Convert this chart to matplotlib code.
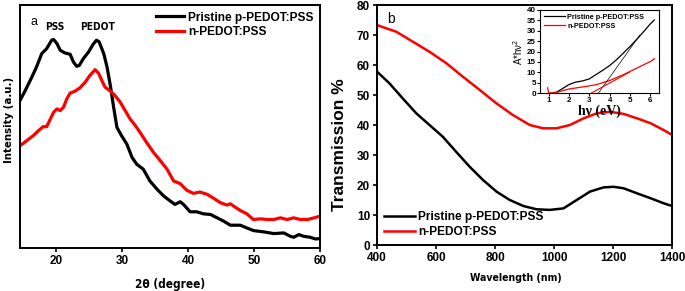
import matplotlib.pyplot as plt
import numpy as np

# panel a: XRD, 2theta (degree) vs intensity (a.u.)
xrd_p_x = [14.5, 15.3, 16.3, 17.0, 17.8, 18.55, 19.3, 19.6, 20.1, 20.6, 21.3, 22.1, 22.6, 23.1, 23.5,
           24.1, 24.9, 25.6, 26.1, 26.5, 27.2, 27.7, 28.2, 28.7, 29.2, 29.9, 30.7, 31.5, 32.2, 33.2,
           34.2, 35.3, 36.3, 37.3, 38.0, 38.8, 39.3, 40.3, 41.3, 42.3, 43.4, 44.4, 45.4, 46.4, 47.9,
           48.9, 49.9, 51.5, 53.0, 54.5, 55.5, 56.0, 56.8, 57.5, 58.5, 59.3, 60.0]
xrd_p_y = [440, 470, 510, 540, 580, 595, 620, 622, 610, 590, 582, 578, 555, 542, 545,
           565, 585, 608, 620, 615, 580, 540, 485, 420, 360, 335, 310, 270, 250, 235,
           200, 175, 155, 140, 130, 138, 130, 108, 108, 102, 100, 90, 80, 68, 68,
           60, 52, 48, 43, 45, 35, 32, 40, 35, 32, 27, 28]
xrd_n_x = [14.5, 15.5, 16.5, 17.3, 18.0, 18.55, 19.1, 19.6, 20.1, 20.6, 21.1, 21.6, 22.1, 22.85, 23.6,
           24.4, 25.1, 25.9, 26.4, 26.9, 27.4, 28.2, 28.9, 29.7, 30.45, 31.2, 32.0, 32.7, 33.7, 34.75,
           35.8, 36.8, 37.8, 38.8, 39.8, 40.8, 41.8, 42.9, 43.9, 44.9, 45.9, 46.4, 46.9, 47.9, 48.9,
           49.9, 51.0, 52.0, 53.0, 54.0, 55.0, 56.0, 57.0, 58.1, 59.1, 60.0]
xrd_n_y = [305, 320, 335, 350, 362, 362, 385, 405, 415, 410, 420, 445, 462, 468, 478,
           495, 515, 532, 522, 500, 480, 468, 455, 435, 410, 385, 365, 345, 315, 285,
           260, 235, 200, 192, 172, 163, 167, 160, 148, 135, 128, 132, 125, 112, 102,
           85, 87, 85, 85, 90, 85, 90, 85, 85, 90, 95]

# panel b: transmission vs wavelength
wl = [400, 442, 487, 533, 578, 623, 668, 714, 759, 805, 850, 896, 941, 986, 1032, 1077, 1122, 1168,
      1202, 1236, 1282, 1327, 1372, 1400]
tr_p = [57.8, 53.9, 48.9, 43.9, 40.0, 36.1, 31.1, 26.1, 21.7, 17.8, 15.0, 13.0, 11.9, 11.7, 12.2, 15.0,
        17.8, 19.2, 19.4, 18.9, 17.2, 15.6, 13.9, 13.0]
wl_n = [400, 465, 521, 578, 635, 691, 748, 805, 861, 918, 963, 1009, 1054, 1100, 1145, 1190, 1236,
        1282, 1327, 1372, 1400]
tr_n = [73.3, 71.1, 67.8, 64.4, 60.6, 56.1, 51.7, 47.2, 43.3, 40.0, 38.9, 38.9, 40.0, 42.2, 43.9, 44.4,
        43.7, 42.2, 40.6, 38.3, 36.7]

# inset: Tauc plot
hv_p = [1.3, 1.63, 1.97, 2.3, 2.65, 3.0, 3.33, 3.67, 4.0, 4.35, 4.7, 5.03, 5.37, 5.71, 6.0, 6.22]
tauc_p = [0, 1.9, 4.0, 5.2, 5.8, 6.8, 8.9, 11.0, 13.2, 16.1, 19.4, 22.6, 26.1, 29.8, 33.1, 35.2]
hv_n = [0.93, 0.97, 1.03, 1.46, 1.97, 2.65, 3.33, 4.0, 4.7, 5.37, 6.05, 6.22]
tauc_n = [2.5, 0.3, 0, 0.5, 1.9, 2.9, 4.0, 6.0, 8.9, 12.1, 15.3, 16.5]
fit_p_x = [3.45, 5.5]
fit_p_y = [0, 27.9]
fit_n_x = [3.1, 5.0]
fit_n_y = [0, 10.1]

labels = ['Pristine p-PEDOT:PSS', 'n-PEDOT:PSS']

plt.rcParams['font.family'] = ['Liberation Sans', 'DejaVu Sans']
# condensed bold for the axis captions
narrow = dict(family=['Liberation Sans Narrow', 'DejaVu Sans'], fontstretch='condensed',
              fontweight='bold')

fig = plt.figure(figsize=(6.85, 2.91), dpi=100)

# ---- panel a
ax1 = fig.add_axes([20 / 685, 43 / 291, 300 / 685, 243 / 291])
ax1.plot(xrd_p_x, xrd_p_y, color='black', lw=2.3, label=labels[0])
ax1.plot(xrd_n_x, xrd_n_y, color='#ff0000', lw=2.3, label=labels[1])
ax1.set_xlim(14.5, 60)
ax1.set_ylim(0, 725)
ax1.set_xticks([20, 30, 40, 50, 60])
ax1.set_yticks([])
ax1.tick_params(axis='x', direction='out', length=3, width=1.2, labelsize=8.5, pad=2)
for lab in ax1.get_xticklabels():
    lab.set_fontweight('bold')
for s in ax1.spines.values():
    s.set_linewidth(1.4)
ax1.set_xlabel('2θ (degree)', fontsize=8.5, **narrow)
ax1.xaxis.set_label_coords(0.5, -0.125)
ax1.set_ylabel('Intensity (a.u.)', fontsize=8.2, **narrow)
ax1.yaxis.set_label_coords(-0.02, 0.525)
ax1.text(0.035, 0.955, 'a', transform=ax1.transAxes, fontsize=9, va='top')
ax1.text(19.8, 650, 'PSS', fontsize=7.3, ha='center', **narrow)
ax1.text(26.3, 650, 'PEDOT', fontsize=7.3, ha='center', **narrow)
ax1.legend(loc='upper right', frameon=False, prop={'weight': 'bold', 'size': 8.6},
           handlelength=2.4, handletextpad=0.3, borderaxespad=0.15, labelspacing=0.2)

# ---- panel b
ax2 = fig.add_axes([377 / 685, 46 / 291, 295 / 685, 240 / 291])
ax2.plot(wl, tr_p, color='black', lw=1.8, label=labels[0])
ax2.plot(wl_n, tr_n, color='#ff0000', lw=1.8, label=labels[1])
ax2.set_xlim(400, 1400)
ax2.set_ylim(0, 80)
ax2.set_xticks(np.arange(400, 1401, 200))
ax2.set_yticks(np.arange(0, 81, 10))
ax2.tick_params(direction='out', length=3, width=1.2, labelsize=8.5, pad=2)
for lab in ax2.get_xticklabels() + ax2.get_yticklabels():
    lab.set_fontweight('bold')
for s in ax2.spines.values():
    s.set_linewidth(1.4)
ax2.set_xlabel('Wavelength (nm)', fontsize=7.6, **narrow)
ax2.xaxis.set_label_coords(0.47, -0.115)
ax2.set_ylabel('Transmission %', fontsize=12.5, fontweight='bold')
ax2.yaxis.set_label_coords(-0.1, 0.42)
ax2.text(0.035, 0.97, 'b', transform=ax2.transAxes, fontsize=10, va='top')
ax2.legend(loc='lower left', frameon=False, prop={'weight': 'bold', 'size': 8.6},
           handlelength=2.6, handletextpad=0.3, borderaxespad=0.15, labelspacing=0.25)

# ---- inset
ax3 = fig.add_axes([540 / 685, 198 / 291, 119 / 685, 83 / 291])
ax3.plot(hv_p, tauc_p, color='black', lw=0.9, label=labels[0])
ax3.plot(hv_n, tauc_n, color='#ff0000', lw=0.9, label=labels[1])
ax3.plot(fit_p_x, fit_p_y, color='black', lw=0.5)
ax3.plot(fit_n_x, fit_n_y, color='#ff0000', lw=0.8)
ax3.set_xlim(0.55, 6.45)
ax3.set_ylim(0, 40)
ax3.set_xticks([1, 2, 3, 4, 5, 6])
ax3.set_yticks(np.arange(0, 41, 5))
ax3.tick_params(direction='out', length=2, width=0.8, labelsize=5.8, pad=1)
for lab in ax3.get_xticklabels() + ax3.get_yticklabels():
    lab.set_fontweight('bold')
for s in ax3.spines.values():
    s.set_linewidth(0.8)
ax3.set_xlabel('hν (eV)', fontsize=10, fontweight='bold', family=['Liberation Serif', 'DejaVu Serif'],
               labelpad=0)
ax3.set_ylabel('A*hν$^2$', fontsize=7, labelpad=1)
ax3.legend(loc='upper left', frameon=False, prop={'weight': 'bold', 'size': 5.2},
           handlelength=3.0, handletextpad=0.3, borderaxespad=0.1, labelspacing=0.25)

fig.savefig('out.png', dpi=100)
